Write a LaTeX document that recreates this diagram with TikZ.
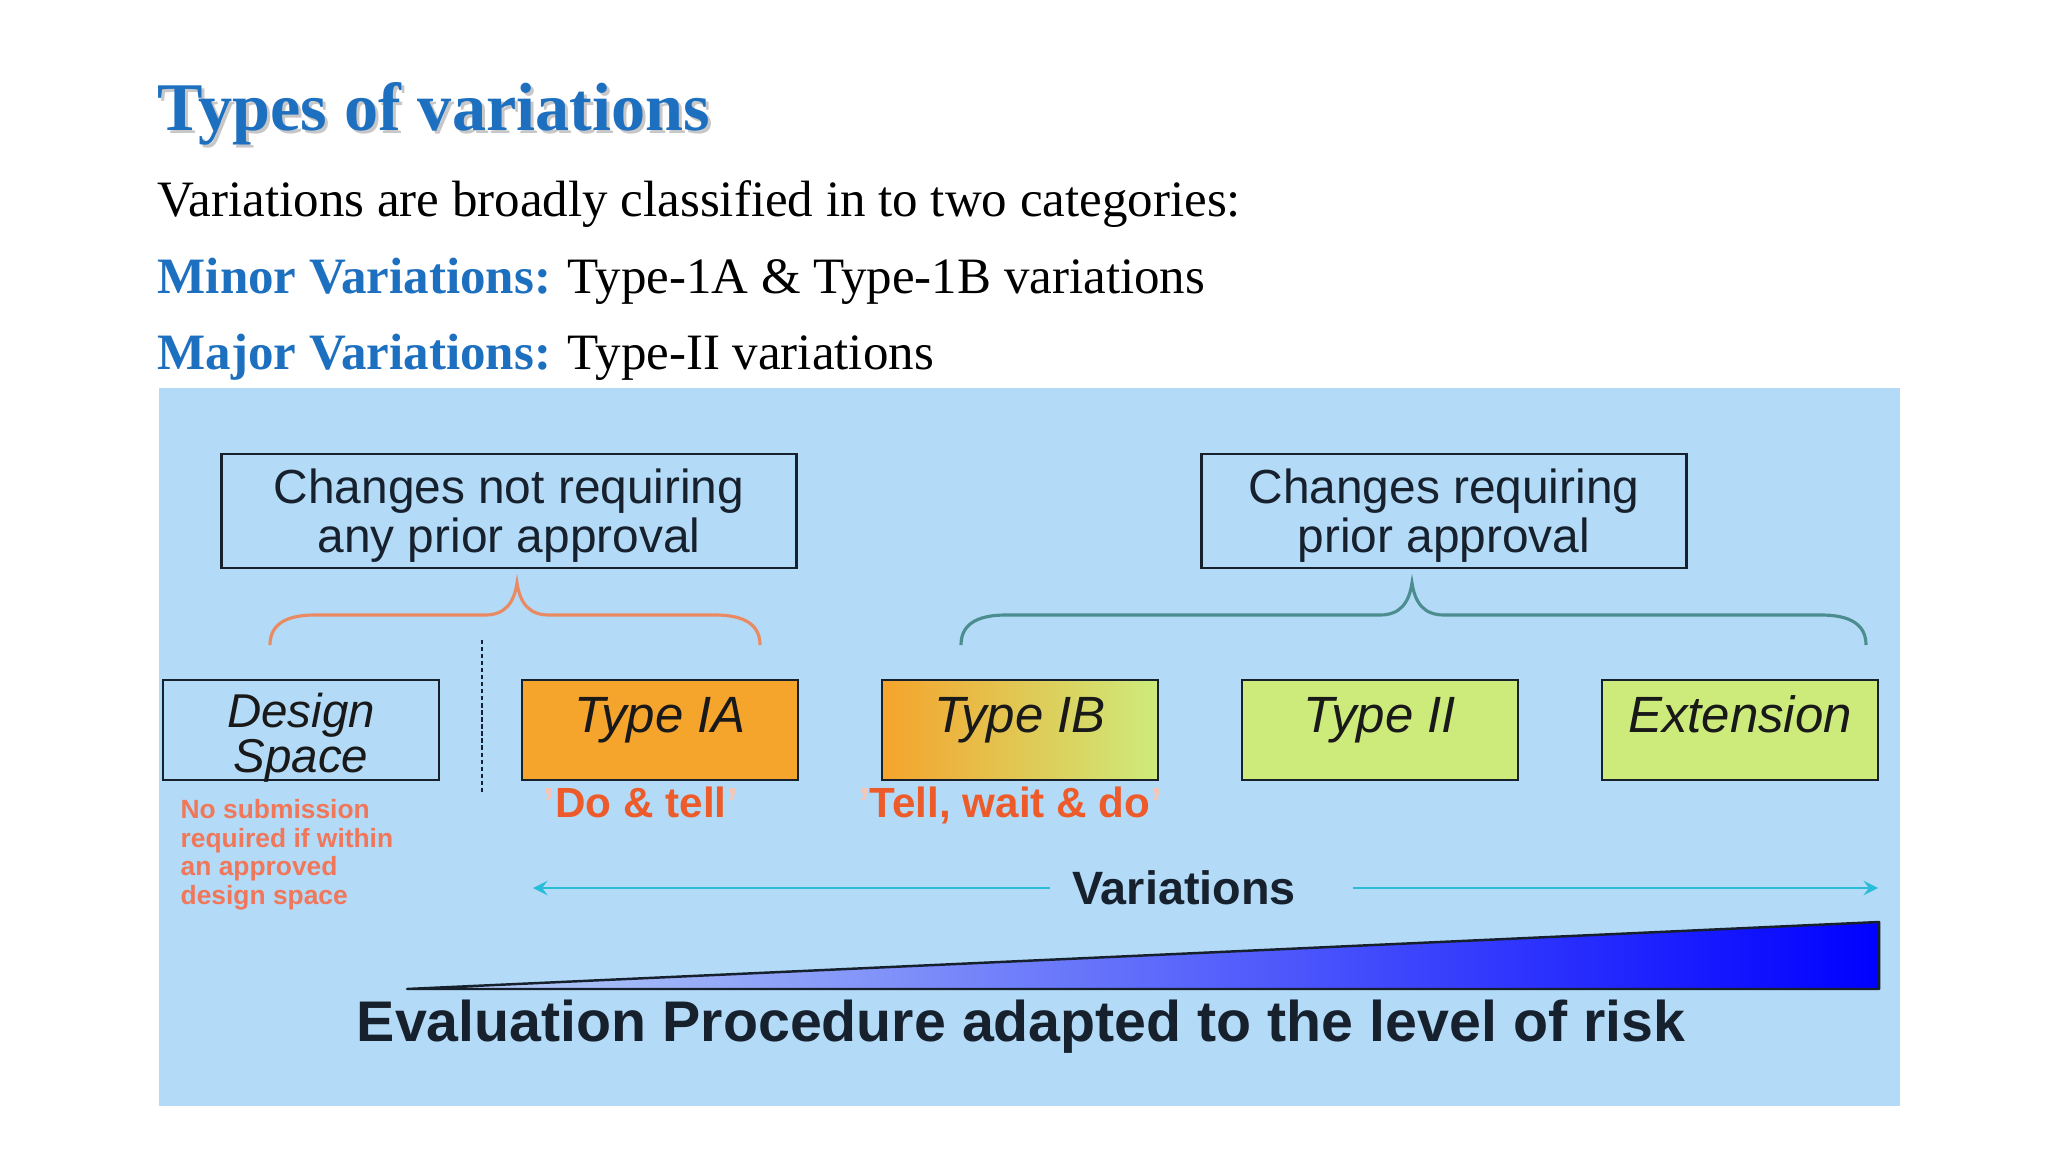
\documentclass[tikz,border=0pt]{standalone}
\usepackage{fontspec}
\setmainfont{Liberation Serif}
\setsansfont{Liberation Sans}
\usetikzlibrary{positioning,arrows,calc}
\definecolor{heading} {HTML}{1D6FBF}
\definecolor{panel}   {HTML}{B3DAF6}
\definecolor{navy}    {HTML}{17212E}
\definecolor{amber}   {HTML}{F5A42C}
\definecolor{lime}    {HTML}{CDEB7B}
\definecolor{brick}   {HTML}{EE5B2B}
\definecolor{salmon}  {HTML}{F0775A}
\definecolor{peach}   {HTML}{E98A62}
\definecolor{seagreen}{HTML}{4C8E90}
\definecolor{cyanline}{HTML}{2BBCD8}
\tikzset{
  >=stealth,
  % --- header text
  head/.style  = {inner sep=0pt, text=heading, font=\fontsize{19.4pt}{24pt}\selectfont\bfseries},
  body/.style  = {inner sep=0pt, text=black, font=\fontsize{14.5pt}{17pt}\selectfont},
  % --- boxes
  ask/.style   = {draw=navy, line width=0.8pt, minimum height=1.14cm, align=center,
                  inner ysep=0pt, text height=0.87cm, text depth=0.05cm,
                  text=navy, font=\sffamily\fontsize{13.6pt}{13.8pt}\selectfont},
  kind/.style  = {draw=navy, line width=0.6pt, minimum width=2.75cm, minimum height=1cm,
                  text height=0.37cm, text depth=0.33cm, text=black!90,
                  font=\sffamily\itshape\fontsize{14.5pt}{15pt}\selectfont},
  % --- small labels
  motto/.style = {inner sep=0pt, text=brick, font=\sffamily\bfseries\fontsize{12pt}{14pt}\selectfont},
  note/.style  = {inner sep=0pt, align=left, text=salmon,
                  font=\sffamily\bfseries\fontsize{7.5pt}{8.1pt}\selectfont},
  % --- lines
  varrow/.style= {-stealth, line width=0.8pt, draw=cyanline},
}
\newcommand{\faint}{\textcolor{brick!35}{'}}

\begin{document}
\begin{tikzpicture}[x=0.01cm,y=-0.01cm,
  risk/.style={inner sep=0pt, text=navy, font=\sffamily\bfseries\fontsize{16.3pt}{18pt}\selectfont},
  divider/.style={draw=navy, line width=0.6pt, dash pattern=on 1.2pt off 0.8pt},
]
  \useasboundingbox[fill=white] (0,0) rectangle (2048,1152);
  % heading
  \node[head, text=black!22, anchor=base west] (titleshade) at (160,134) {Types of variations};
  \node[head, anchor=base west] (title) at (157,131) {Types of variations};
  \node[body, anchor=base west] (intro) at (157,217) {Variations are broadly classified in to two categories:};
  \node[body, anchor=base west] (minor) at (157,294) {\textcolor{heading}{\bfseries Minor Variations:} Type-1A \& Type-1B variations};
  \node[body, anchor=base west] (major) at (157,370) {\textcolor{heading}{\bfseries Major Variations:} Type-II variations};

  % panel
  \fill[panel] (159,388) rectangle (1900,1106);

  \node[ask, minimum width=5.75cm] (noprior) at (509,511) {Changes not requiring\\any prior approval};
  \node[ask, minimum width=4.84cm] (prior) at (1444,511) {Changes requiring\\prior approval};

  % braces
  \draw[peach, line width=0.9pt] (270,645) .. controls (270,625) and (285,615) .. (315,615) -- (485,615)
       .. controls (505,615) and (514,603) .. (517,583) .. controls (520,603) and (529,615) .. (549,615)
       -- (715,615) .. controls (745,615) and (760,625) .. (760,645);
  \draw[seagreen, line width=0.9pt] (961,645) .. controls (961,625) and (976,615) .. (1006,615) -- (1380,615)
       .. controls (1400,615) and (1409,603) .. (1412,583) .. controls (1415,603) and (1424,615) .. (1444,615)
       -- (1821,615) .. controls (1851,615) and (1866,625) .. (1866,645);

  \draw[divider] (482,640) -- (482,792);

  \node[kind, fill=panel, align=center, inner ysep=0pt, text height=0.84cm, text depth=0cm,
        font=\sffamily\itshape\fontsize{13.5pt}{12.6pt}\selectfont] (dspace) at (301,730) {Design\\Space};
  \node[kind, fill=amber] (typeIA) at (660,730) {Type IA};
  \node[kind, left color=amber, right color=lime] (typeIB) at (1020,730) {Type IB};
  \node[kind, fill=lime] (typeII) at (1380,730) {Type II};
  \node[kind, fill=lime] (ext) at (1740,730) {Extension};

  \node[motto, anchor=base] (dotell) at (641,817) {\faint Do \& tell\faint};
  \node[motto, anchor=base] (tellwait) at (1010,817) {\faint Tell, wait \& do\faint};
  \node[note, anchor=north west] (nosub) at (180,799) {No submission\\required if within\\an approved\\design space};

  % variations range
  \node[inner sep=0pt, text=navy, font=\sffamily\bfseries\fontsize{13.3pt}{15pt}\selectfont] (varlbl) at (1184,888) {Variations};
  \coordinate (vleft) at (533,888);
  \coordinate (vright) at (1878,888);
  \draw[varrow, shorten <=6pt] (varlbl.west) -- (vleft);
  \draw[varrow, shorten <=16pt] (varlbl.east) -- (vright);

  % risk wedge
  \coordinate (wl) at (407,989);
  \coordinate (wt) at (1879,922);
  \coordinate (wb) at (1879,989);
  \shade[left color={rgb,255:red,190;green,216;blue,246}, middle color={rgb,255:red,150;green,170;blue,245},
         right color={rgb,255:red,0;green,0;blue,255}] (wl) -- (wt) -- (wb) -- cycle;
  \draw[navy, line width=0.7pt, line join=round] (wl) -- (wt) -- (wb) -- cycle;
  \node[risk, anchor=base] (evalrisk) at (1021,1041) {Evaluation Procedure adapted to the level of risk};
\end{tikzpicture}
\end{document}
